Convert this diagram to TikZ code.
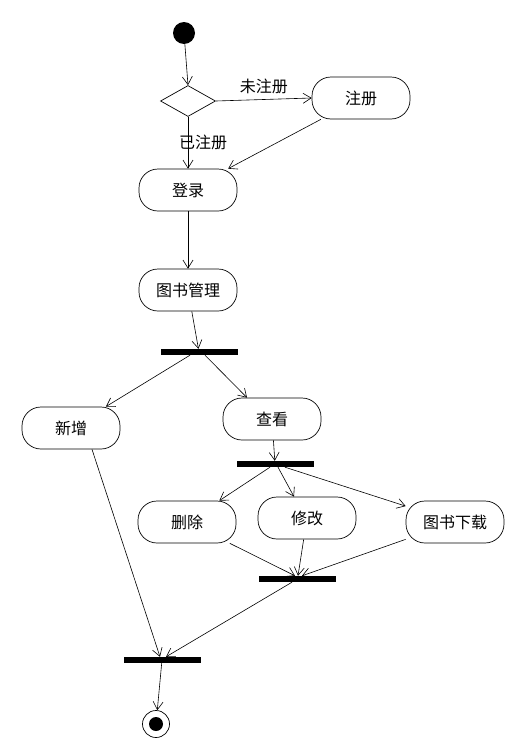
\documentclass[tikz,border=0pt]{standalone}
\usepackage{fontspec}
\setmainfont{Noto Sans CJK SC}
\usetikzlibrary{positioning,arrows.meta,calc,shapes.geometric}
\begin{document}
\begin{tikzpicture}[
    x=1pt,y=1pt,
    node distance=60pt,
    every node/.style={font=\fontsize{16}{18}\selectfont},
    act/.style={draw,rounded corners=19pt,minimum width=98pt,minimum height=42pt,line width=.7pt},
    bar/.style={fill=black,minimum width=77pt,minimum height=6pt,inner sep=0pt},
    flow/.style={-{Straight Barb[length=8pt,width=10pt]},line width=.6pt}
    ]
    \useasboundingbox (0,0) rectangle (506,-755);

    \node[circle,fill=black,minimum size=22pt,inner sep=0pt] (start) at (184,-33) {};
    \node[diamond,draw,line width=.7pt,minimum width=55pt,minimum height=31pt,inner sep=0pt,below of=start,xshift=4pt,yshift=-8pt] (dec) {};
    \node[act,right of=dec,xshift=113pt,yshift=3pt] (reg) {注册};
    \node[act,below of=dec,yshift=-29pt] (login) {登录};
    \node[act,below of=login,yshift=-40pt] (mgmt) {图书管理};
    \node[bar,below of=mgmt,xshift=11pt,yshift=-2pt] (fork1) {};
    \node[act,below of=fork1,xshift=73pt,yshift=-7pt] (view) {查看};
    \node[act,below of=fork1,xshift=-128pt,yshift=-16pt] (add) {新增};
    \node[bar,below of=view,xshift=3pt,yshift=15pt] (fork2) {};
    \node[act,below of=fork2,xshift=32pt,yshift=6pt] (edit) {修改};
    \node[act,left of=edit,xshift=-60pt,yshift=-4pt] (del) {删除};
    \node[act,right of=edit,xshift=88pt,yshift=-4pt] (down) {图书下载};
    \node[bar,below of=edit,xshift=-10pt,yshift=-1pt] (join1) {};
    \node[bar,below of=join1,xshift=-135pt,yshift=-21pt] (join2) {};
    \node[circle,draw,line width=.7pt,minimum size=27pt,inner sep=0pt,below of=join2,xshift=-6pt,yshift=-4pt] (end) {};
    \node[circle,fill=black,minimum size=14pt,inner sep=0pt] (endcore) at (end) {};

    \draw[flow] (start) -- (dec.north);
    \draw[flow] (dec.east) -- node[above,yshift=2pt] {未注册} (reg.west);
    \draw[flow] (dec.south) -- node[xshift=15pt] {已注册} (login.north);
    \draw[flow] (reg) -- (login);
    \draw[flow] (login) -- (mgmt);
    \draw[flow] (mgmt) -- (fork1);
    \draw[flow] ($(fork1.south)+(-9pt,0)$) -- (add);
    \draw[flow] ($(fork1.south)+(6pt,0)$) -- ($(view.north)+(-25pt,0)$);
    \draw[flow] (view) -- (fork2);
    \draw[flow] ($(fork2.south)+(-5pt,0)$) -- (del);
    \draw[flow] ($(fork2.south)+(3pt,0)$) -- ($(edit.north)+(-13pt,0)$);
    \draw[flow] ($(fork2.south)+(10pt,0)$) -- (down);
    \draw[flow] (del) -- ($(join1.north)+(-2pt,0)$);
    \draw[flow] (edit) -- ($(join1.north)+(1pt,0)$);
    \draw[flow] (down) -- ($(join1.north)+(5pt,0)$);
    \draw[flow] ($(add.south)+(21pt,0)$) -- ($(join2.north)+(-2pt,0)$);
    \draw[flow] ($(join1.south)+(-5pt,0)$) -- ($(join2.north)+(4pt,0)$);
    \draw[flow] (join2) -- (end);
  \end{tikzpicture}
\end{document}
